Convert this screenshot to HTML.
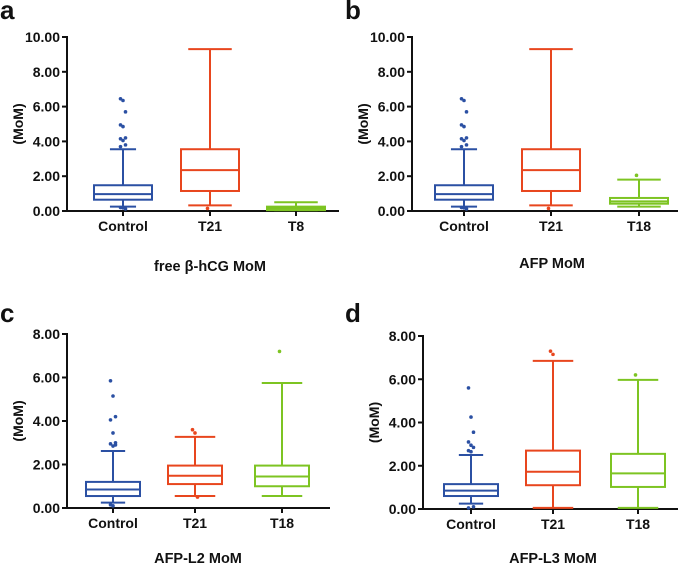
<!DOCTYPE html>
<html><head><meta charset="utf-8"><style>
html,body{margin:0;padding:0;background:#fff;}
svg{display:block;font-family:"Liberation Sans",Arial,sans-serif;font-weight:bold;}
</style></head><body>
<svg id="fig" width="685" height="566" viewBox="0 0 685 566" xmlns="http://www.w3.org/2000/svg"></svg>
<script>
const colors = ["#2b50a3", "#e8461e", "#7dc422"];
// Panel a
const catsA = ["Control", "T21", "T8"];
const boxesA = [[0.25, 0.65, 0.97, 1.48, 3.55], [0.32, 1.15, 2.35, 3.55, 9.3], [0.05, 0.05, 0.15, 0.25, 0.5]];
const outA = [[6.45, 6.35, 5.7, 4.95, 4.85, 4.2, 4.15, 4.05, 3.8, 3.7, 0.18, 0.12, 0.2], [0.15], []];
const ticksA = [0, 2, 4, 6, 8, 10];
// Panel b
const catsB = ["Control", "T21", "T18"];
const boxesB = [[0.25, 0.65, 0.97, 1.48, 3.55], [0.32, 1.15, 2.35, 3.55, 9.3], [0.25, 0.42, 0.55, 0.75, 1.8]];
const outB = [[6.45, 6.35, 5.7, 4.95, 4.85, 4.2, 4.15, 4.05, 3.8, 3.7, 0.18, 0.12, 0.2], [0.15], [2.05]];
const ticksB = [0, 2, 4, 6, 8, 10];
// Panel c
const catsC = ["Control", "T21", "T18"];
const boxesC = [[0.25, 0.55, 0.85, 1.2, 2.62], [0.55, 1.1, 1.48, 1.95, 3.27], [0.55, 1.0, 1.45, 1.95, 5.75]];
const outC = [[5.85, 5.15, 4.2, 4.05, 3.45, 3.0, 2.95, 2.85, 2.9, 0.15, 0.1], [3.6, 3.45, 0.5], [7.2]];
const ticksC = [0, 2, 4, 6, 8];
// Panel d
const catsD = ["Control", "T21", "T18"];
const boxesD = [[0.25, 0.6, 0.85, 1.15, 2.5], [0.05, 1.1, 1.72, 2.7, 6.85], [0.05, 1.02, 1.65, 2.55, 5.97]];
const outD = [[5.6, 4.25, 3.55, 3.1, 2.95, 2.85, 2.7, 2.65, 0.1, 0.05], [7.3, 7.15], [6.2]];
const ticksD = [0, 2, 4, 6, 8];

const NS = "http://www.w3.org/2000/svg";
const svg = document.getElementById("fig");
function mk(tag, attrs, parent) {
  const e = document.createElementNS(NS, tag);
  for (const k in attrs) e.setAttribute(k, attrs[k]);
  (parent || svg).appendChild(e);
  return e;
}

function panel(p) {
  const g = mk("g", {});
  
  
  const ymax = p.ticks[p.ticks.length - 1];
  const yScale = v => p.y0 - (v / ymax) * (p.y0 - p.yTop);
  const L = mk("text", {x: p.lx, y: p.ly, "font-size": 26, fill: "#111"}, g);
  L.textContent = p.letter;
  
  
  const ax = mk("line", {x1: p.ax, y1: p.yTop - 1, x2: p.ax, y2: p.y0, stroke: "#111", "stroke-width": 2}, g);
  
  
  const xa = mk("line", {x1: p.ax - 1, y1: p.y0, x2: p.xEnd, y2: p.y0, stroke: "#111", "stroke-width": 2}, g);
  
  
  p.ticks.forEach(t => {
    const y = yScale(t);
    mk("line", {x1: p.ax - 5, y1: y, x2: p.ax, y2: y, stroke: "#111", "stroke-width": 2}, g);
    const tl = mk("text", {x: p.ax - 7, y: y + 5, "font-size": 14, "text-anchor": "end", fill: "#111"}, g);
    tl.textContent = t.toFixed(2);
    
    
  });
  const yt = mk("text", {x: 0, y: 0, "font-size": 14, "text-anchor": "middle", fill: "#111",
    transform: "translate(" + (p.ax - 44) + "," + ((p.y0 + p.yTop) / 2) + ") rotate(-90)"}, g);
  yt.textContent = "(MoM)";
  
  
  p.cats.forEach((c, i) => {
    const cx = p.centers[i], hw = p.hw, col = colors[i];
    const b = p.boxes[i];
    const gb = mk("g", {}, g);
    
    
    const cw = i === 0 ? hw * 0.45 : hw * 0.75;
    mk("line", {x1: cx, y1: yScale(b[0]), x2: cx, y2: yScale(b[1]), stroke: col, "stroke-width": 2}, gb);
    mk("line", {x1: cx, y1: yScale(b[3]), x2: cx, y2: yScale(b[4]), stroke: col, "stroke-width": 2}, gb);
    mk("line", {x1: cx - cw, y1: yScale(b[0]), x2: cx + cw, y2: yScale(b[0]), stroke: col, "stroke-width": 2}, gb);
    mk("line", {x1: cx - cw, y1: yScale(b[4]), x2: cx + cw, y2: yScale(b[4]), stroke: col, "stroke-width": 2}, gb);
    mk("rect", {x: cx - hw, y: yScale(b[3]), width: 2 * hw, height: Math.max(1, yScale(b[1]) - yScale(b[3])), fill: "#fff", stroke: col, "stroke-width": 2}, gb);
    mk("line", {x1: cx - hw, y1: yScale(b[2]), x2: cx + hw, y2: yScale(b[2]), stroke: col, "stroke-width": 2}, gb);
    p.outs[i].forEach((v, k) => {
      const dot = mk("circle", {cx: cx + ((k % 3) - 1) * 2.5, cy: yScale(v), r: 1.8, fill: col}, gb);
      
      
    });
    mk("line", {x1: cx, y1: p.y0, x2: cx, y2: p.y0 + 5, stroke: "#111", "stroke-width": 2}, g);
    const cl = mk("text", {x: cx, y: p.y0 + 20, "font-size": 14, "text-anchor": "middle", fill: "#111"}, g);
    cl.textContent = c;
    
    
  });
  const tt = mk("text", {x: p.tx, y: p.ty, "font-size": 14.5, "text-anchor": "middle", fill: "#111"}, g);
  tt.textContent = p.title;
  
  
}

panel({letter: "a", lx: 0, ly: 19, ax: 67, xEnd: 339, y0: 211, yTop: 37, ticks: ticksA, cats: catsA, boxes: boxesA, outs: outA,
  centers: [123, 210, 296], hw: 29, title: "free β-hCG MoM", tx: 210, ty: 271});
panel({letter: "b", lx: 345, ly: 19, ax: 412, xEnd: 678, y0: 211, yTop: 37, ticks: ticksB, cats: catsB, boxes: boxesB, outs: outB,
  centers: [464, 551, 639], hw: 29, title: "AFP MoM", tx: 552, ty: 268});
panel({letter: "c", lx: 0, ly: 322, ax: 67, xEnd: 330, y0: 508, yTop: 334, ticks: ticksC, cats: catsC, boxes: boxesC, outs: outC,
  centers: [113, 195, 282], hw: 27, title: "AFP-L2 MoM", tx: 198, ty: 563});
panel({letter: "d", lx: 345, ly: 322, ax: 423, xEnd: 678, y0: 509, yTop: 336, ticks: ticksD, cats: catsD, boxes: boxesD, outs: outD,
  centers: [471, 553, 638], hw: 27, title: "AFP-L3 MoM", tx: 553, ty: 563});
</script>
</body></html>
